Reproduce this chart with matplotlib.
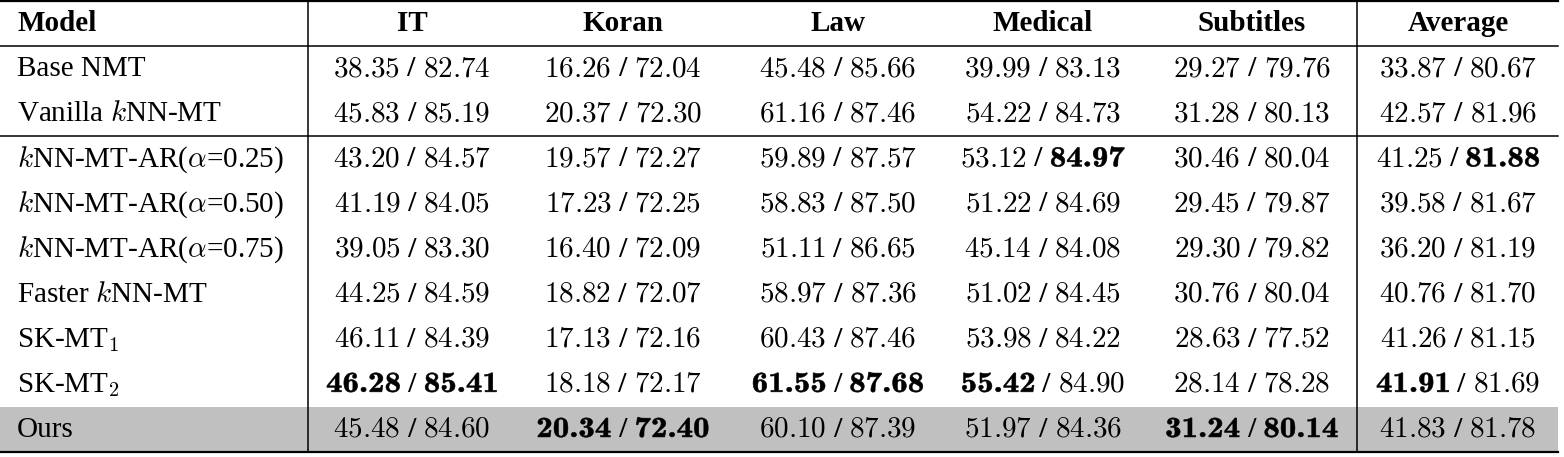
import os
import matplotlib
import matplotlib.pyplot as plt
from matplotlib.textpath import TextPath
from matplotlib.patches import PathPatch
from matplotlib.transforms import Affine2D
from matplotlib.font_manager import FontProperties

plt.rcParams['mathtext.fontset'] = 'cm'
plt.rcParams['font.family'] = ['Liberation Serif', 'DejaVu Serif']

models = ['Base NMT', r'Vanilla $k$NN-MT',
          r'$k$NN-MT-AR($\alpha$=0.25)', r'$k$NN-MT-AR($\alpha$=0.50)',
          r'$k$NN-MT-AR($\alpha$=0.75)', r'Faster $k$NN-MT',
          r'SK-MT$_1$', r'SK-MT$_2$', 'Ours']
domains = ['IT', 'Koran', 'Law', 'Medical', 'Subtitles', 'Average']

bleu = [
    [38.35, 16.26, 45.48, 39.99, 29.27, 33.87],
    [45.83, 20.37, 61.16, 54.22, 31.28, 42.57],
    [43.20, 19.57, 59.89, 53.12, 30.46, 41.25],
    [41.19, 17.23, 58.83, 51.22, 29.45, 39.58],
    [39.05, 16.40, 51.11, 45.14, 29.30, 36.20],
    [44.25, 18.82, 58.97, 51.02, 30.76, 40.76],
    [46.11, 17.13, 60.43, 53.98, 28.63, 41.26],
    [46.28, 18.18, 61.55, 55.42, 28.14, 41.91],
    [45.48, 20.34, 60.10, 51.97, 31.24, 41.83],
]
comet = [
    [82.74, 72.04, 85.66, 83.13, 79.76, 80.67],
    [85.19, 72.30, 87.46, 84.73, 80.13, 81.96],
    [84.57, 72.27, 87.57, 84.97, 80.04, 81.88],
    [84.05, 72.25, 87.50, 84.69, 79.87, 81.67],
    [83.30, 72.09, 86.65, 84.08, 79.82, 81.19],
    [84.59, 72.07, 87.36, 84.45, 80.04, 81.70],
    [84.39, 72.16, 87.46, 84.22, 77.52, 81.15],
    [85.41, 72.17, 87.68, 84.90, 78.28, 81.69],
    [84.60, 72.40, 87.39, 84.36, 80.14, 81.78],
]

W, H = 1564, 457
fig = plt.figure(figsize=(W / 100, H / 100), dpi=100)
ax = fig.add_axes([0, 0, 1, 1])
ax.set_xlim(0, W)
ax.set_ylim(H, 0)
ax.axis('off')
renderer = fig.canvas.get_renderer()

top = 1.0
row_h = 45.1
right = 1558
col_x = [412, 623, 838, 1043, 1252, 1458]
fs = 21
fs_px = fs * 100 / 72.0
base_off = 7.5   # baseline below row centre
bold_sx = 1.13   # widen cmb10 a bit, closer to cmbx

cmb = os.path.join(matplotlib.get_data_path(), 'fonts', 'ttf', 'cmb10.ttf')
bold_prop = FontProperties(fname=cmb)

def baseline(i):
    return top + row_h * (i + 0.5) + base_off

n = len(models)
ax.add_patch(plt.Rectangle((0, top + row_h * n), right, row_h,
                           facecolor='#c0c0c0', edgecolor='none', zorder=0))

# header
ax.text(17, baseline(0), 'Model', fontsize=fs, fontweight='bold',
        va='baseline', ha='left')
for x, d in zip(col_x, domains):
    ax.text(x, baseline(0), d, fontsize=fs, fontweight='bold',
            va='baseline', ha='center')

for i, m in enumerate(models):
    ax.text(17, baseline(i + 1), m, fontsize=fs, va='baseline', ha='left')

def bold_num(v):
    tp = TextPath((0, 0), '%.2f' % v, size=fs_px, prop=bold_prop)
    return tp, tp.get_extents().x1 * bold_sx + 1.5

def cell(cx, y, b, c, bb, bc):
    items = []
    for v, bold in [(b, bb), (None, None), (c, bc)]:
        if v is None:
            t = ax.text(0, y, ' / ', fontsize=fs, fontweight='bold',
                        va='baseline', ha='left')
            items.append(('t', t, t.get_window_extent(renderer).width))
        elif bold:
            tp, w = bold_num(v)
            items.append(('p', tp, w))
        else:
            t = ax.text(0, y, r'$%.2f$' % v, fontsize=fs,
                        va='baseline', ha='left')
            items.append(('t', t, t.get_window_extent(renderer).width))
    x = cx - sum(w for _, _, w in items) / 2
    for kind, obj, w in items:
        if kind == 't':
            obj.set_x(x)
        else:
            tr = Affine2D().scale(bold_sx, -1).translate(x, y) + ax.transData
            ax.add_patch(PathPatch(obj, transform=tr, facecolor='black',
                                   edgecolor='black', lw=0.4))
        x += w

# bold = best among the compared methods (rows from index 2 on)
for j in range(len(domains)):
    best_b = max(bleu[i][j] for i in range(2, n))
    best_c = max(comet[i][j] for i in range(2, n))
    for i in range(n):
        bb = i >= 2 and bleu[i][j] == best_b
        bc = i >= 2 and comet[i][j] == best_c
        cell(col_x[j], baseline(i + 1), bleu[i][j], comet[i][j], bb, bc)

# rules
ax.plot([0, right], [top, top], color='black', lw=1.6)
ax.plot([0, right], [top + row_h, top + row_h], color='black', lw=1.1)
ax.plot([0, right], [top + row_h * 3, top + row_h * 3], color='black', lw=1.1)
ax.plot([0, right], [top + row_h * (n + 1), top + row_h * (n + 1)], color='black', lw=1.6)
for x in [308, 1357]:
    ax.plot([x, x], [top, top + row_h * (n + 1)], color='black', lw=1.1)

fig.savefig('out.png', dpi=100)
